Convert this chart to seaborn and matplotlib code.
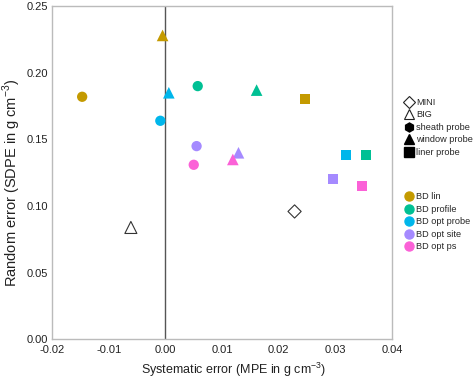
import pandas as pd
import matplotlib
matplotlib.use("Agg")
import matplotlib.pyplot as plt
from matplotlib.lines import Line2D
import seaborn as sns

# data
methods = ["BD lin", "BD profile", "BD opt probe", "BD opt site", "BD opt ps"]
colors = ["#C49A00", "#00C094", "#00B6EB", "#A58AFF", "#FB61D7"]

# per method: sheath probe, window probe, liner probe
mpe_sheath = [-0.0147, 0.0057, -0.0009, 0.0055, 0.0050]
sdpe_sheath = [0.182, 0.190, 0.164, 0.145, 0.131]
mpe_window = [-0.0005, 0.0161, 0.0006, 0.0129, 0.0119]
sdpe_window = [0.228, 0.187, 0.185, 0.140, 0.135]
mpe_liner = [0.0246, 0.0354, 0.0318, 0.0295, 0.0347]
sdpe_liner = [0.180, 0.138, 0.138, 0.1205, 0.115]

# reference instruments
ref_names = ["MINI", "BIG"]
ref_mpe = [0.0228, -0.0061]
ref_sdpe = [0.096, 0.084]

probes = ["sheath probe", "window probe", "liner probe"]
markers = {"sheath probe": "o", "window probe": "^", "liner probe": "s"}

df = pd.concat([
    pd.DataFrame({"mpe": mpe_sheath, "sdpe": sdpe_sheath, "method": methods, "probe": "sheath probe"}),
    pd.DataFrame({"mpe": mpe_window, "sdpe": sdpe_window, "method": methods, "probe": "window probe"}),
    pd.DataFrame({"mpe": mpe_liner, "sdpe": sdpe_liner, "method": methods, "probe": "liner probe"}),
], ignore_index=True)
ref_df = pd.DataFrame({"mpe": ref_mpe, "sdpe": ref_sdpe, "name": ref_names})

sns.set_style("white")
plt.rcParams["font.family"] = ["Liberation Sans", "DejaVu Sans"]
plt.rcParams["mathtext.fontset"] = "custom"
plt.rcParams["mathtext.rm"] = "Liberation Sans"

fig = plt.figure(figsize=(4.74, 3.81), dpi=100)
ax = fig.add_axes([0.110, 0.109, 0.717, 0.875])

ax.axvline(0, color="#555555", lw=1.0, zorder=1)

sizes = {"sheath probe": 55, "window probe": 70, "liner probe": 52}
for probe in probes:
    sub = df[df["probe"] == probe]
    sns.scatterplot(data=sub, x="mpe", y="sdpe", hue="method", hue_order=methods,
                    palette=colors, marker=markers[probe], s=sizes[probe],
                    linewidth=0, legend=False, ax=ax, zorder=3)

ref_markers = {"MINI": "D", "BIG": "^"}
ref_sizes = {"MINI": 45, "BIG": 75}
for name in ref_names:
    sub = ref_df[ref_df["name"] == name]
    ax.scatter(sub["mpe"], sub["sdpe"], marker=ref_markers[name], s=ref_sizes[name],
               facecolors="none", edgecolors="#333333", linewidths=0.8, zorder=3)

ax.set_xlim(-0.02, 0.04)
ax.set_ylim(0, 0.25)
ax.set_xticks([-0.02, -0.01, 0.0, 0.01, 0.02, 0.03, 0.04])
ax.set_xticklabels(["-0.02", "-0.01", "0.00", "0.01", "0.02", "0.03", "0.04"])
ax.set_yticks([0.0, 0.05, 0.10, 0.15, 0.20, 0.25])
ax.set_yticklabels(["0.00", "0.05", "0.10", "0.15", "0.20", "0.25"])
ax.tick_params(direction="in", length=5, width=0.8, color="#555555",
               labelsize=8, labelcolor="#222222")
ax.tick_params(axis="x", pad=4)
ax.tick_params(axis="y", pad=3)
for sp in ax.spines.values():
    sp.set_color("#bbbbbb")
    sp.set_linewidth(1.0)

ax.set_xlabel("")
ax.set_ylabel("")
fig.text(234 / 474, 1 - 370 / 381, "Systematic error (MPE in g cm$^{-3}$)",
         fontsize=9, color="#222222", ha="center", va="center")
fig.text(12 / 474, 1 - 183 / 381, "Random error (SDPE in g cm$^{-3}$)",
         fontsize=10.5, color="#222222", ha="center", va="center", rotation=90)

shape_handles = [
    Line2D([], [], marker="D", ls="", markerfacecolor="none", markeredgecolor="#222222", markersize=6, markeredgewidth=0.8),
    Line2D([], [], marker="^", ls="", markerfacecolor="none", markeredgecolor="#222222", markersize=7, markeredgewidth=0.8),
    Line2D([], [], marker="h", ls="", color="black", markersize=6.5),
    Line2D([], [], marker="^", ls="", color="black", markersize=7),
    Line2D([], [], marker="s", ls="", color="black", markersize=6.5),
]
shape_labels = ["MINI", "BIG", "sheath probe", "window probe", "liner probe"]
leg1 = fig.legend(shape_handles, shape_labels, loc="upper left", bbox_to_anchor=(0.853, 0.743),
                  frameon=False, fontsize=6.6, handlelength=1.0, handletextpad=0.3,
                  labelspacing=0.38, borderpad=0, borderaxespad=0)

color_handles = [Line2D([], [], marker="o", ls="", color=c, markersize=6.5) for c in colors]
leg2 = fig.legend(color_handles, methods, loc="upper left", bbox_to_anchor=(0.853, 0.495),
                  frameon=False, fontsize=6.6, handlelength=1.0, handletextpad=0.3,
                  labelspacing=0.38, borderpad=0, borderaxespad=0)

fig.savefig("out.png", dpi=100)
